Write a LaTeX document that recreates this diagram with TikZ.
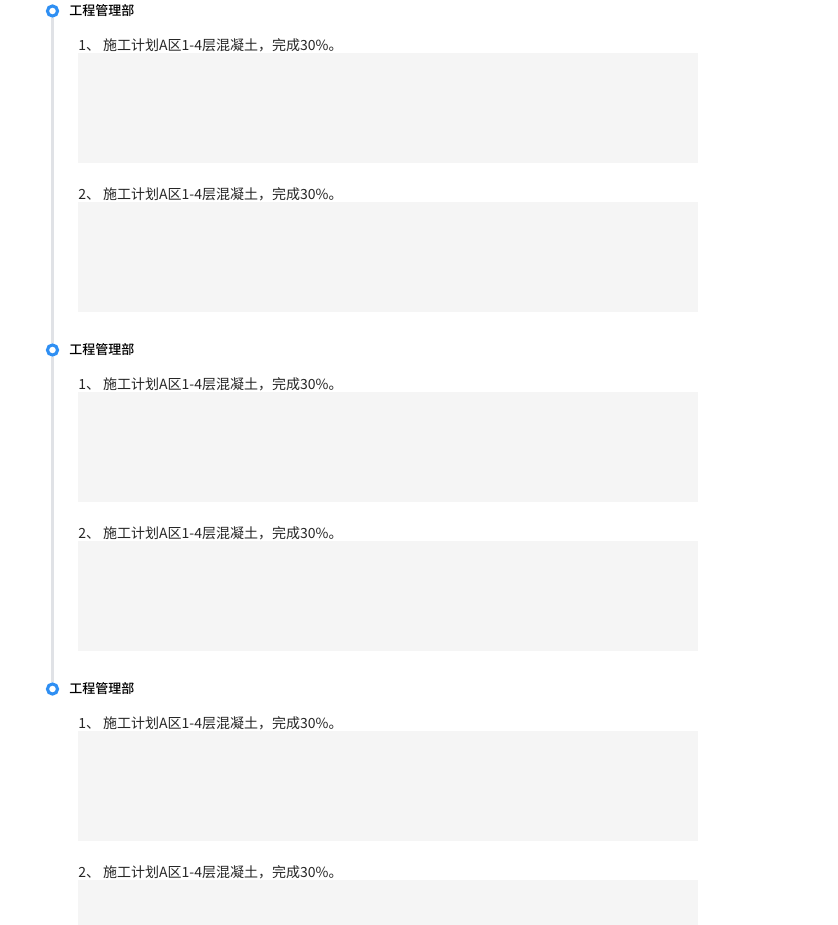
\documentclass[tikz,border=0pt]{standalone}
\usepackage{fontspec}
\newfontfamily\cjk[BoldFont={Noto Sans CJK SC Medium}]{Noto Sans CJK SC}
\usetikzlibrary{positioning}
\definecolor{dotblue}{HTML}{2F8FF3}
\definecolor{railgray}{HTML}{E0E2E6}
\definecolor{panelgray}{HTML}{F5F5F5}
\definecolor{textdark}{HTML}{262626}

\begin{document}
\begin{tikzpicture}[x=0.75pt, y=-0.75pt,
    dot/.style={circle, draw=dotblue, fill=white, line width=2.3pt, minimum size=7.6pt, inner sep=0pt},
    rail/.style={railgray, line width=1.6pt},
    heading/.style={anchor=west, inner sep=0pt, text=black, font=\cjk\bfseries\fontsize{9.75}{12}\selectfont},
    item/.style={anchor=west, inner sep=0pt, text=textdark, font=\cjk\fontsize{10.5}{13}\selectfont},
    panel/.style={anchor=north west, fill=panelgray, inner sep=0pt, minimum width=465pt, minimum height=82.5pt}]
    % 畫布
    \clip (0,0) rectangle (838,925);
    \fill[white] (0,0) rectangle (838,925);

    % 各部門
    \foreach \i/\y in {1/0, 2/339, 3/678} {
        \node[dot] (dot\i) at (52.5, \y+11) {};
        \node[heading] (head\i) at (69, \y+11) {工程管理部};

        % 第一項
        \node[item] (itema\i) at (78, \y+45) {1、 施工计划A区1-4层混凝土，完成30\%。};
        \node[panel] (panela\i) at (78, \y+53) {};

        % 第二項
        \node[item] (itemb\i) at (78, \y+194) {2、 施工计划A区1-4层混凝土，完成30\%。};
        \node[panel] (panelb\i) at (78, \y+202) {};
    }

    % 時間線
    \draw[rail] (dot1) -- (dot2);
    \draw[rail] (dot2) -- (dot3);
\end{tikzpicture}
\end{document}
